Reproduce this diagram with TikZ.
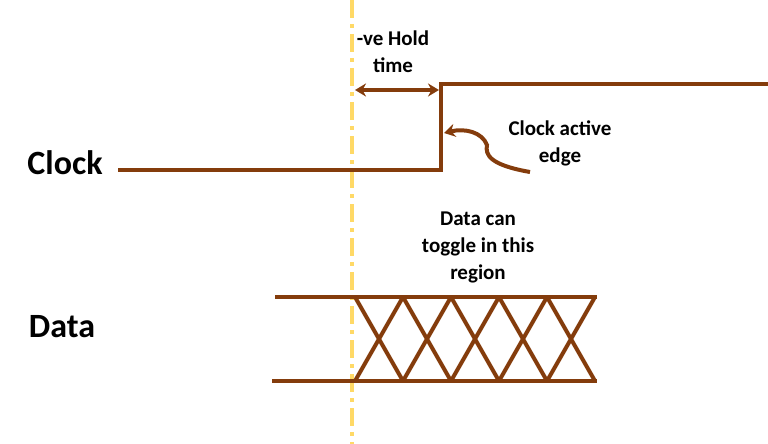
\documentclass[tikz,border=0pt]{standalone}
\usepackage{fontspec}
\setmainfont{Carlito}
\usetikzlibrary{arrows.meta}
\begin{document}
\begin{tikzpicture}[x=1pt,y=-1pt,
  sig/.style={draw=brn,line width=4pt},
  lbl/.style={font=\bfseries\fontsize{21}{24}\selectfont,align=center,inner sep=0},
  big/.style={font=\bfseries\fontsize{34}{38}\selectfont,inner sep=0}]
\definecolor{brn}{HTML}{843C0C}
\definecolor{ylw}{HTML}{FFD966}
\useasboundingbox (0,0) rectangle (768,444);
\draw[ylw,line width=4pt,dash pattern=on 18pt off 6pt on 4pt off 6pt] (352,0) -- (352,444);
\coordinate (c0) at (118,170); \coordinate (c1) at (441,170);
\coordinate (c2) at (441,84); \coordinate (c3) at (768,84);
\draw[sig] (c0) -- (c1) -- (c2) -- (c3);
\node[big] (clk) at (65,163) {Clock};
\node[big] (dat) at (62,327) {Data};
\node[lbl] (hold) at (393,52) {-ve Hold\\[3pt]time};
\coordinate (h0) at (355,90); \coordinate (h1) at (439,90);
\draw[brn,line width=4pt,{Stealth[length=11pt,width=13pt]}-{Stealth[length=11pt,width=13pt]}] (h0) -- (h1);
\node[lbl] (cae) at (560,143) {Clock active\\[3pt]edge};
\coordinate (e0) at (530,172); \coordinate (e1) at (444,133);
\draw[brn,line width=4pt,-{Stealth[length=11pt,width=13pt]}] (e0) .. controls (490,165) and (485,155) .. (487,145) .. controls (482,132) and (465,128) .. (e1);
\node[lbl] (tog) at (478,247) {Data can\\[3pt]toggle in this\\[3pt]region};
\coordinate (t0) at (275,297); \coordinate (t1) at (597,297);
\coordinate (b0) at (272,381); \coordinate (b1) at (597,381);
\draw[sig] (t0) -- (t1); \draw[sig] (b0) -- (b1);
\foreach \i in {0,...,4}{
  \draw[sig] ({355+48*\i},297) -- ({403+48*\i},381);
  \draw[sig] ({355+48*\i},381) -- ({403+48*\i},297);
}
\end{tikzpicture}
\end{document}
